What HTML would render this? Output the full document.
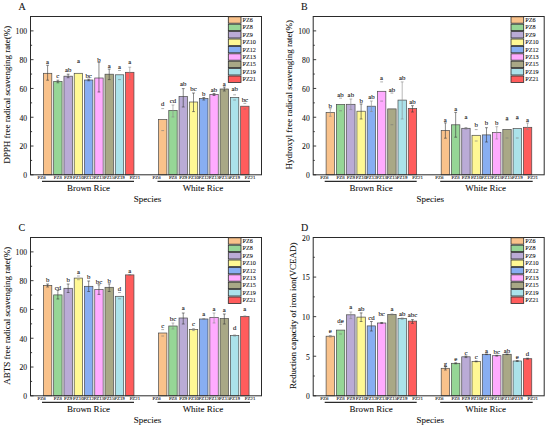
<!DOCTYPE html>
<html><head><meta charset="utf-8"><style>
html,body{margin:0;padding:0;background:#fff;width:550px;height:428px;overflow:hidden}
svg{display:block}
text{font-family:'Liberation Serif',serif;fill:#111;stroke:#111;stroke-width:0.08px}
</style></head><body>
<svg width="550" height="428" viewBox="0 0 550 428">
<g transform="translate(0,0)">
<text x="18.4" y="10.4" font-size="10">A</text>
<text transform="translate(9.6,94.8) rotate(-90)" text-anchor="middle" font-size="9">DPPH free radical scavenging rate(%)</text>
<rect x="43.4" y="73.3" width="8.4" height="101.5" fill="#F9C28B" stroke="#4a4a4a" stroke-width="0.7"/>
<path d="M47.6 65.3V80.2" stroke="#3a3a3a" stroke-width="0.6" fill="none"/>
<path d="M46.2 65.3h2.8M46.2 80.2h2.8" stroke="#3a3a3a" stroke-width="0.6" fill="none"/>
<text x="47.6" y="64.4" text-anchor="middle" font-size="6.8">a</text>
<rect x="53.67" y="81.5" width="8.4" height="93.3" fill="#96D696" stroke="#4a4a4a" stroke-width="0.7"/>
<path d="M57.87 80.2V82.8" stroke="#3a3a3a" stroke-width="0.6" fill="none"/>
<path d="M56.47 80.2h2.8M56.47 82.8h2.8" stroke="#3a3a3a" stroke-width="0.6" fill="none"/>
<text x="57.87" y="77.8" text-anchor="middle" font-size="6.8">c</text>
<rect x="63.94" y="76.2" width="8.4" height="98.6" fill="#BAABD6" stroke="#4a4a4a" stroke-width="0.7"/>
<path d="M68.14 74.2V77.7" stroke="#3a3a3a" stroke-width="0.6" fill="none"/>
<path d="M66.74 74.2h2.8M66.74 77.7h2.8" stroke="#3a3a3a" stroke-width="0.6" fill="none"/>
<text x="68.14" y="72" text-anchor="middle" font-size="6.8">ab</text>
<rect x="74.21" y="73.3" width="8.4" height="101.5" fill="#FFF894" stroke="#4a4a4a" stroke-width="0.7"/>
<text x="78.41" y="63.1" text-anchor="middle" font-size="6.8">a</text>
<rect x="84.48" y="80" width="8.4" height="94.8" fill="#88AEF2" stroke="#4a4a4a" stroke-width="0.7"/>
<path d="M88.68 79.2V80.8" stroke="#3a3a3a" stroke-width="0.6" fill="none"/>
<path d="M87.28 79.2h2.8M87.28 80.8h2.8" stroke="#3a3a3a" stroke-width="0.6" fill="none"/>
<text x="88.68" y="77.8" text-anchor="middle" font-size="6.8">bc</text>
<rect x="94.75" y="78" width="8.4" height="96.8" fill="#FFABFF" stroke="#4a4a4a" stroke-width="0.7"/>
<path d="M98.95 62.4V92" stroke="#3a3a3a" stroke-width="0.6" fill="none"/>
<path d="M97.55 62.4h2.8M97.55 92h2.8" stroke="#3a3a3a" stroke-width="0.6" fill="none"/>
<text x="98.95" y="61.5" text-anchor="middle" font-size="6.8">b</text>
<rect x="105.02" y="74.2" width="8.4" height="100.6" fill="#A9A886" stroke="#4a4a4a" stroke-width="0.7"/>
<path d="M109.22 69.1V79.6" stroke="#3a3a3a" stroke-width="0.6" fill="none"/>
<path d="M107.82 69.1h2.8M107.82 79.6h2.8" stroke="#3a3a3a" stroke-width="0.6" fill="none"/>
<text x="109.22" y="68.2" text-anchor="middle" font-size="6.8">a</text>
<rect x="115.29" y="74.8" width="8.4" height="100" fill="#ABE2EA" stroke="#4a4a4a" stroke-width="0.7"/>
<path d="M118.09 70.5h2.8M118.09 79.6h2.8" stroke="#777" stroke-width="0.6" fill="none"/>
<text x="119.49" y="69.2" text-anchor="middle" font-size="6.8">a</text>
<rect x="125.56" y="72.3" width="8.4" height="102.5" fill="#FF5C5C" stroke="#4a4a4a" stroke-width="0.7"/>
<path d="M129.76 67.2V79.6" stroke="#8a8a8a" stroke-width="0.6" fill="none"/>
<path d="M128.36 67.2h2.8M128.36 79.6h2.8" stroke="#8a8a8a" stroke-width="0.6" fill="none"/>
<text x="129.76" y="64.4" text-anchor="middle" font-size="6.8">a</text>
<rect x="158.5" y="119.6" width="8.4" height="55.2" fill="#F9C28B" stroke="#4a4a4a" stroke-width="0.7"/>
<path d="M161.3 108.6h2.8M161.3 130.6h2.8" stroke="#777" stroke-width="0.6" fill="none"/>
<text x="162.7" y="106" text-anchor="middle" font-size="6.8">d</text>
<rect x="168.77" y="110.4" width="8.4" height="64.4" fill="#96D696" stroke="#4a4a4a" stroke-width="0.7"/>
<path d="M172.97 105V117" stroke="#8a8a8a" stroke-width="0.6" fill="none"/>
<path d="M171.57 105h2.8M171.57 117h2.8" stroke="#8a8a8a" stroke-width="0.6" fill="none"/>
<text x="172.97" y="103" text-anchor="middle" font-size="6.8">cd</text>
<rect x="179.04" y="96.6" width="8.4" height="78.2" fill="#BAABD6" stroke="#4a4a4a" stroke-width="0.7"/>
<path d="M183.24 88.6V107" stroke="#3a3a3a" stroke-width="0.6" fill="none"/>
<path d="M181.84 88.6h2.8M181.84 107h2.8" stroke="#3a3a3a" stroke-width="0.6" fill="none"/>
<text x="183.24" y="85.6" text-anchor="middle" font-size="6.8">ab</text>
<rect x="189.31" y="102" width="8.4" height="72.8" fill="#FFF894" stroke="#4a4a4a" stroke-width="0.7"/>
<path d="M193.51 93V111.6" stroke="#3a3a3a" stroke-width="0.6" fill="none"/>
<path d="M192.11 93h2.8M192.11 111.6h2.8" stroke="#3a3a3a" stroke-width="0.6" fill="none"/>
<text x="193.51" y="91" text-anchor="middle" font-size="6.8">bc</text>
<rect x="199.58" y="98.6" width="8.4" height="76.2" fill="#88AEF2" stroke="#4a4a4a" stroke-width="0.7"/>
<path d="M203.78 97.5V100" stroke="#3a3a3a" stroke-width="0.6" fill="none"/>
<path d="M202.38 97.5h2.8M202.38 100h2.8" stroke="#3a3a3a" stroke-width="0.6" fill="none"/>
<text x="203.78" y="95.6" text-anchor="middle" font-size="6.8">b</text>
<rect x="209.85" y="94.4" width="8.4" height="80.4" fill="#FFABFF" stroke="#4a4a4a" stroke-width="0.7"/>
<path d="M214.05 93.5V95.5" stroke="#3a3a3a" stroke-width="0.6" fill="none"/>
<path d="M212.65 93.5h2.8M212.65 95.5h2.8" stroke="#3a3a3a" stroke-width="0.6" fill="none"/>
<text x="214.05" y="91.6" text-anchor="middle" font-size="6.8">ab</text>
<rect x="220.12" y="89" width="8.4" height="85.8" fill="#A9A886" stroke="#4a4a4a" stroke-width="0.7"/>
<path d="M224.32 87V91" stroke="#3a3a3a" stroke-width="0.6" fill="none"/>
<path d="M222.92 87h2.8M222.92 91h2.8" stroke="#3a3a3a" stroke-width="0.6" fill="none"/>
<text x="224.32" y="85.6" text-anchor="middle" font-size="6.8">a</text>
<rect x="230.39" y="97.4" width="8.4" height="77.4" fill="#ABE2EA" stroke="#4a4a4a" stroke-width="0.7"/>
<path d="M233.19 94.8h2.8M233.19 100h2.8" stroke="#777" stroke-width="0.6" fill="none"/>
<text x="234.59" y="91" text-anchor="middle" font-size="6.8">ab</text>
<rect x="240.66" y="106.2" width="8.4" height="68.6" fill="#FF5C5C" stroke="#4a4a4a" stroke-width="0.7"/>
<path d="M243.46 103.4h2.8M243.46 109h2.8" stroke="#777" stroke-width="0.6" fill="none"/>
<text x="244.86" y="102" text-anchor="middle" font-size="6.8">bc</text>
<rect x="30.5" y="16.5" width="231" height="158.3" fill="none" stroke="#2a2a2a" stroke-width="1"/>
<path d="M30.5 174.8h3M30.5 146.02h3M30.5 117.24h3M30.5 88.45h3M30.5 59.67h3M30.5 30.89h3M30.5 160.41h1.6M30.5 131.63h1.6M30.5 102.85h1.6M30.5 74.06h1.6M30.5 45.28h1.6" stroke="#2a2a2a" stroke-width="0.9"/>
<text x="27" y="178.2" text-anchor="end" font-size="7.6">0</text>
<text x="27" y="149.42" text-anchor="end" font-size="7.6">20</text>
<text x="27" y="120.64" text-anchor="end" font-size="7.6">40</text>
<text x="27" y="91.85" text-anchor="end" font-size="7.6">60</text>
<text x="27" y="63.07" text-anchor="end" font-size="7.6">80</text>
<text x="27" y="34.29" text-anchor="end" font-size="7.6">100</text>
<rect x="228.3" y="16.8" width="12.7" height="6.4" fill="#F9C28B" stroke="#2a2a2a" stroke-width="0.8"/>
<text x="242.5" y="22" font-size="6.2">PZ6</text>
<rect x="228.3" y="24.2" width="12.7" height="6.4" fill="#96D696" stroke="#2a2a2a" stroke-width="0.8"/>
<text x="242.5" y="29.4" font-size="6.2">PZ8</text>
<rect x="228.3" y="31.6" width="12.7" height="6.4" fill="#BAABD6" stroke="#2a2a2a" stroke-width="0.8"/>
<text x="242.5" y="36.8" font-size="6.2">PZ9</text>
<rect x="228.3" y="39" width="12.7" height="6.4" fill="#FFF894" stroke="#2a2a2a" stroke-width="0.8"/>
<text x="242.5" y="44.2" font-size="6.2">PZ10</text>
<rect x="228.3" y="46.4" width="12.7" height="6.4" fill="#88AEF2" stroke="#2a2a2a" stroke-width="0.8"/>
<text x="242.5" y="51.6" font-size="6.2">PZ12</text>
<rect x="228.3" y="53.8" width="12.7" height="6.4" fill="#FFABFF" stroke="#2a2a2a" stroke-width="0.8"/>
<text x="242.5" y="59" font-size="6.2">PZ13</text>
<rect x="228.3" y="61.2" width="12.7" height="6.4" fill="#A9A886" stroke="#2a2a2a" stroke-width="0.8"/>
<text x="242.5" y="66.4" font-size="6.2">PZ15</text>
<rect x="228.3" y="68.6" width="12.7" height="6.4" fill="#ABE2EA" stroke="#2a2a2a" stroke-width="0.8"/>
<text x="242.5" y="73.8" font-size="6.2">PZ19</text>
<rect x="228.3" y="76" width="12.7" height="6.4" fill="#FF5C5C" stroke="#2a2a2a" stroke-width="0.8"/>
<text x="242.5" y="81.2" font-size="6.2">PZ21</text>
<text x="41.6" y="178.6" text-anchor="middle" font-size="4.9" fill="#444" stroke="none">PZ6</text>
<text x="57.87" y="178.6" text-anchor="middle" font-size="4.9" fill="#444" stroke="none">PZ8</text>
<text x="68.14" y="178.6" text-anchor="middle" font-size="4.9" fill="#444" stroke="none">PZ9</text>
<text x="78.41" y="178.6" text-anchor="middle" font-size="4.9" fill="#444" stroke="none">PZ10</text>
<text x="88.68" y="178.6" text-anchor="middle" font-size="4.9" fill="#444" stroke="none">PZ12</text>
<text x="98.95" y="178.6" text-anchor="middle" font-size="4.9" fill="#444" stroke="none">PZ13</text>
<text x="109.22" y="178.6" text-anchor="middle" font-size="4.9" fill="#444" stroke="none">PZ15</text>
<text x="119.49" y="178.6" text-anchor="middle" font-size="4.9" fill="#444" stroke="none">PZ19</text>
<text x="134.96" y="178.6" text-anchor="middle" font-size="4.9" fill="#444" stroke="none">PZ21</text>
<text x="156.7" y="178.6" text-anchor="middle" font-size="4.9" fill="#444" stroke="none">PZ6</text>
<text x="172.97" y="178.6" text-anchor="middle" font-size="4.9" fill="#444" stroke="none">PZ8</text>
<text x="183.24" y="178.6" text-anchor="middle" font-size="4.9" fill="#444" stroke="none">PZ9</text>
<text x="193.51" y="178.6" text-anchor="middle" font-size="4.9" fill="#444" stroke="none">PZ10</text>
<text x="203.78" y="178.6" text-anchor="middle" font-size="4.9" fill="#444" stroke="none">PZ12</text>
<text x="214.05" y="178.6" text-anchor="middle" font-size="4.9" fill="#444" stroke="none">PZ13</text>
<text x="224.32" y="178.6" text-anchor="middle" font-size="4.9" fill="#444" stroke="none">PZ15</text>
<text x="234.59" y="178.6" text-anchor="middle" font-size="4.9" fill="#444" stroke="none">PZ19</text>
<text x="250.06" y="178.6" text-anchor="middle" font-size="4.9" fill="#444" stroke="none">PZ21</text>
<path d="M42 181.3H134M157.5 181.3H250" stroke="#2a2a2a" stroke-width="1.2"/>
<text x="88.5" y="191" text-anchor="middle" font-size="9">Brown Rice</text>
<text x="203" y="191" text-anchor="middle" font-size="9">White Rice</text>
<text x="147.5" y="202" text-anchor="middle" font-size="9">Species</text>
</g>
<g transform="translate(282.7,0)">
<text x="18.4" y="10.4" font-size="10">B</text>
<text transform="translate(9.6,94.8) rotate(-90)" text-anchor="middle" font-size="9">Hydroxyl free radical scavenging rate(%)</text>
<rect x="43.4" y="112.5" width="8.4" height="62.3" fill="#F9C28B" stroke="#4a4a4a" stroke-width="0.7"/>
<path d="M47.6 108.7V116.3" stroke="#8a8a8a" stroke-width="0.6" fill="none"/>
<path d="M46.2 108.7h2.8M46.2 116.3h2.8" stroke="#8a8a8a" stroke-width="0.6" fill="none"/>
<text x="47.6" y="107.8" text-anchor="middle" font-size="6.8">b</text>
<rect x="53.67" y="104.5" width="8.4" height="70.3" fill="#96D696" stroke="#4a4a4a" stroke-width="0.7"/>
<path d="M56.47 98.2h2.8M56.47 110.8h2.8" stroke="#777" stroke-width="0.6" fill="none"/>
<text x="57.87" y="97.3" text-anchor="middle" font-size="6.8">ab</text>
<rect x="63.94" y="104.3" width="8.4" height="70.5" fill="#BAABD6" stroke="#4a4a4a" stroke-width="0.7"/>
<path d="M68.14 99V109.6" stroke="#8a8a8a" stroke-width="0.6" fill="none"/>
<path d="M66.74 99h2.8M66.74 109.6h2.8" stroke="#8a8a8a" stroke-width="0.6" fill="none"/>
<text x="68.14" y="97.3" text-anchor="middle" font-size="6.8">ab</text>
<rect x="74.21" y="111.2" width="8.4" height="63.6" fill="#FFF894" stroke="#4a4a4a" stroke-width="0.7"/>
<path d="M78.41 104V119" stroke="#3a3a3a" stroke-width="0.6" fill="none"/>
<path d="M77.01 104h2.8M77.01 119h2.8" stroke="#3a3a3a" stroke-width="0.6" fill="none"/>
<text x="78.41" y="102.5" text-anchor="middle" font-size="6.8">b</text>
<rect x="84.48" y="106.2" width="8.4" height="68.6" fill="#88AEF2" stroke="#4a4a4a" stroke-width="0.7"/>
<path d="M88.68 101V111.5" stroke="#8a8a8a" stroke-width="0.6" fill="none"/>
<path d="M87.28 101h2.8M87.28 111.5h2.8" stroke="#8a8a8a" stroke-width="0.6" fill="none"/>
<text x="88.68" y="98.6" text-anchor="middle" font-size="6.8">ab</text>
<rect x="94.75" y="91.3" width="8.4" height="83.5" fill="#FFABFF" stroke="#4a4a4a" stroke-width="0.7"/>
<path d="M97.55 81.9h2.8M97.55 101.1h2.8" stroke="#777" stroke-width="0.6" fill="none"/>
<text x="98.95" y="80.4" text-anchor="middle" font-size="6.8">a</text>
<rect x="105.02" y="108.9" width="8.4" height="65.9" fill="#A9A886" stroke="#4a4a4a" stroke-width="0.7"/>
<path d="M107.82 93.1h2.8M107.82 124.7h2.8" stroke="#777" stroke-width="0.6" fill="none"/>
<text x="109.22" y="91.6" text-anchor="middle" font-size="6.8">ab</text>
<rect x="115.29" y="100.1" width="8.4" height="74.7" fill="#ABE2EA" stroke="#4a4a4a" stroke-width="0.7"/>
<path d="M119.49 81.9V119" stroke="#8a8a8a" stroke-width="0.6" fill="none"/>
<path d="M118.09 81.9h2.8M118.09 119h2.8" stroke="#8a8a8a" stroke-width="0.6" fill="none"/>
<text x="119.49" y="80.4" text-anchor="middle" font-size="6.8">ab</text>
<rect x="125.56" y="108.5" width="8.4" height="66.3" fill="#FF5C5C" stroke="#4a4a4a" stroke-width="0.7"/>
<path d="M129.76 105.7V112" stroke="#3a3a3a" stroke-width="0.6" fill="none"/>
<path d="M128.36 105.7h2.8M128.36 112h2.8" stroke="#3a3a3a" stroke-width="0.6" fill="none"/>
<text x="129.76" y="104" text-anchor="middle" font-size="6.8">ab</text>
<rect x="158.5" y="130.5" width="8.4" height="44.3" fill="#F9C28B" stroke="#4a4a4a" stroke-width="0.7"/>
<path d="M162.7 122.9V138.2" stroke="#3a3a3a" stroke-width="0.6" fill="none"/>
<path d="M161.3 122.9h2.8M161.3 138.2h2.8" stroke="#3a3a3a" stroke-width="0.6" fill="none"/>
<text x="162.7" y="121.7" text-anchor="middle" font-size="6.8">a</text>
<rect x="168.77" y="124.8" width="8.4" height="50" fill="#96D696" stroke="#4a4a4a" stroke-width="0.7"/>
<path d="M172.97 112.4V137.2" stroke="#3a3a3a" stroke-width="0.6" fill="none"/>
<path d="M171.57 112.4h2.8M171.57 137.2h2.8" stroke="#3a3a3a" stroke-width="0.6" fill="none"/>
<text x="172.97" y="110.6" text-anchor="middle" font-size="6.8">a</text>
<rect x="179.04" y="128.3" width="8.4" height="46.5" fill="#BAABD6" stroke="#4a4a4a" stroke-width="0.7"/>
<path d="M181.84 127.5h2.8M181.84 129h2.8" stroke="#777" stroke-width="0.6" fill="none"/>
<text x="183.24" y="119.2" text-anchor="middle" font-size="6.8">a</text>
<rect x="189.31" y="135.3" width="8.4" height="39.5" fill="#FFF894" stroke="#4a4a4a" stroke-width="0.7"/>
<path d="M192.11 129.6h2.8M192.11 141h2.8" stroke="#777" stroke-width="0.6" fill="none"/>
<text x="193.51" y="127.4" text-anchor="middle" font-size="6.8">b</text>
<rect x="199.58" y="134.9" width="8.4" height="39.9" fill="#88AEF2" stroke="#4a4a4a" stroke-width="0.7"/>
<path d="M203.78 127.7V142" stroke="#3a3a3a" stroke-width="0.6" fill="none"/>
<path d="M202.38 127.7h2.8M202.38 142h2.8" stroke="#3a3a3a" stroke-width="0.6" fill="none"/>
<text x="203.78" y="124.9" text-anchor="middle" font-size="6.8">b</text>
<rect x="209.85" y="132.5" width="8.4" height="42.3" fill="#FFABFF" stroke="#4a4a4a" stroke-width="0.7"/>
<path d="M214.05 126.7V139" stroke="#8a8a8a" stroke-width="0.6" fill="none"/>
<path d="M212.65 126.7h2.8M212.65 139h2.8" stroke="#8a8a8a" stroke-width="0.6" fill="none"/>
<text x="214.05" y="124.5" text-anchor="middle" font-size="6.8">b</text>
<rect x="220.12" y="129.6" width="8.4" height="45.2" fill="#A9A886" stroke="#4a4a4a" stroke-width="0.7"/>
<path d="M222.92 120.4h2.8M222.92 138h2.8" stroke="#777" stroke-width="0.6" fill="none"/>
<text x="224.32" y="120.1" text-anchor="middle" font-size="6.8">a</text>
<rect x="230.39" y="128.6" width="8.4" height="46.2" fill="#ABE2EA" stroke="#4a4a4a" stroke-width="0.7"/>
<path d="M233.19 119h2.8M233.19 138h2.8" stroke="#777" stroke-width="0.6" fill="none"/>
<text x="234.59" y="118.8" text-anchor="middle" font-size="6.8">a</text>
<rect x="240.66" y="127.3" width="8.4" height="47.5" fill="#FF5C5C" stroke="#4a4a4a" stroke-width="0.7"/>
<path d="M244.86 123V129.6" stroke="#8a8a8a" stroke-width="0.6" fill="none"/>
<path d="M243.46 123h2.8M243.46 129.6h2.8" stroke="#8a8a8a" stroke-width="0.6" fill="none"/>
<text x="244.86" y="122" text-anchor="middle" font-size="6.8">a</text>
<rect x="30.5" y="16.5" width="231" height="158.3" fill="none" stroke="#2a2a2a" stroke-width="1"/>
<path d="M30.5 174.8h3M30.5 146.02h3M30.5 117.24h3M30.5 88.45h3M30.5 59.67h3M30.5 30.89h3M30.5 160.41h1.6M30.5 131.63h1.6M30.5 102.85h1.6M30.5 74.06h1.6M30.5 45.28h1.6" stroke="#2a2a2a" stroke-width="0.9"/>
<text x="27" y="178.2" text-anchor="end" font-size="7.6">0</text>
<text x="27" y="149.42" text-anchor="end" font-size="7.6">20</text>
<text x="27" y="120.64" text-anchor="end" font-size="7.6">40</text>
<text x="27" y="91.85" text-anchor="end" font-size="7.6">60</text>
<text x="27" y="63.07" text-anchor="end" font-size="7.6">80</text>
<text x="27" y="34.29" text-anchor="end" font-size="7.6">100</text>
<rect x="228.3" y="16.8" width="12.7" height="6.4" fill="#F9C28B" stroke="#2a2a2a" stroke-width="0.8"/>
<text x="242.5" y="22" font-size="6.2">PZ6</text>
<rect x="228.3" y="24.2" width="12.7" height="6.4" fill="#96D696" stroke="#2a2a2a" stroke-width="0.8"/>
<text x="242.5" y="29.4" font-size="6.2">PZ8</text>
<rect x="228.3" y="31.6" width="12.7" height="6.4" fill="#BAABD6" stroke="#2a2a2a" stroke-width="0.8"/>
<text x="242.5" y="36.8" font-size="6.2">PZ9</text>
<rect x="228.3" y="39" width="12.7" height="6.4" fill="#FFF894" stroke="#2a2a2a" stroke-width="0.8"/>
<text x="242.5" y="44.2" font-size="6.2">PZ10</text>
<rect x="228.3" y="46.4" width="12.7" height="6.4" fill="#88AEF2" stroke="#2a2a2a" stroke-width="0.8"/>
<text x="242.5" y="51.6" font-size="6.2">PZ12</text>
<rect x="228.3" y="53.8" width="12.7" height="6.4" fill="#FFABFF" stroke="#2a2a2a" stroke-width="0.8"/>
<text x="242.5" y="59" font-size="6.2">PZ13</text>
<rect x="228.3" y="61.2" width="12.7" height="6.4" fill="#A9A886" stroke="#2a2a2a" stroke-width="0.8"/>
<text x="242.5" y="66.4" font-size="6.2">PZ15</text>
<rect x="228.3" y="68.6" width="12.7" height="6.4" fill="#ABE2EA" stroke="#2a2a2a" stroke-width="0.8"/>
<text x="242.5" y="73.8" font-size="6.2">PZ19</text>
<rect x="228.3" y="76" width="12.7" height="6.4" fill="#FF5C5C" stroke="#2a2a2a" stroke-width="0.8"/>
<text x="242.5" y="81.2" font-size="6.2">PZ21</text>
<text x="41.6" y="178.6" text-anchor="middle" font-size="4.9" fill="#444" stroke="none">PZ6</text>
<text x="57.87" y="178.6" text-anchor="middle" font-size="4.9" fill="#444" stroke="none">PZ8</text>
<text x="68.14" y="178.6" text-anchor="middle" font-size="4.9" fill="#444" stroke="none">PZ9</text>
<text x="78.41" y="178.6" text-anchor="middle" font-size="4.9" fill="#444" stroke="none">PZ10</text>
<text x="88.68" y="178.6" text-anchor="middle" font-size="4.9" fill="#444" stroke="none">PZ12</text>
<text x="98.95" y="178.6" text-anchor="middle" font-size="4.9" fill="#444" stroke="none">PZ13</text>
<text x="109.22" y="178.6" text-anchor="middle" font-size="4.9" fill="#444" stroke="none">PZ15</text>
<text x="119.49" y="178.6" text-anchor="middle" font-size="4.9" fill="#444" stroke="none">PZ19</text>
<text x="134.96" y="178.6" text-anchor="middle" font-size="4.9" fill="#444" stroke="none">PZ21</text>
<text x="156.7" y="178.6" text-anchor="middle" font-size="4.9" fill="#444" stroke="none">PZ6</text>
<text x="172.97" y="178.6" text-anchor="middle" font-size="4.9" fill="#444" stroke="none">PZ8</text>
<text x="183.24" y="178.6" text-anchor="middle" font-size="4.9" fill="#444" stroke="none">PZ9</text>
<text x="193.51" y="178.6" text-anchor="middle" font-size="4.9" fill="#444" stroke="none">PZ10</text>
<text x="203.78" y="178.6" text-anchor="middle" font-size="4.9" fill="#444" stroke="none">PZ12</text>
<text x="214.05" y="178.6" text-anchor="middle" font-size="4.9" fill="#444" stroke="none">PZ13</text>
<text x="224.32" y="178.6" text-anchor="middle" font-size="4.9" fill="#444" stroke="none">PZ15</text>
<text x="234.59" y="178.6" text-anchor="middle" font-size="4.9" fill="#444" stroke="none">PZ19</text>
<text x="250.06" y="178.6" text-anchor="middle" font-size="4.9" fill="#444" stroke="none">PZ21</text>
<path d="M42 181.3H134M157.5 181.3H250" stroke="#2a2a2a" stroke-width="1.2"/>
<text x="88.5" y="191" text-anchor="middle" font-size="9">Brown Rice</text>
<text x="203" y="191" text-anchor="middle" font-size="9">White Rice</text>
<text x="147.5" y="202" text-anchor="middle" font-size="9">Species</text>
</g>
<g transform="translate(0,221)">
<text x="18.4" y="10.4" font-size="10">C</text>
<text transform="translate(9.6,94.8) rotate(-90)" text-anchor="middle" font-size="9">ABTS free radical scavenging rate(%)</text>
<rect x="43.4" y="64.4" width="8.4" height="110.4" fill="#F9C28B" stroke="#4a4a4a" stroke-width="0.7"/>
<path d="M47.6 63V66" stroke="#3a3a3a" stroke-width="0.6" fill="none"/>
<path d="M46.2 63h2.8M46.2 66h2.8" stroke="#3a3a3a" stroke-width="0.6" fill="none"/>
<text x="47.6" y="60.7" text-anchor="middle" font-size="6.8">b</text>
<rect x="53.67" y="73.9" width="8.4" height="100.9" fill="#96D696" stroke="#4a4a4a" stroke-width="0.7"/>
<path d="M57.87 69.5V78" stroke="#3a3a3a" stroke-width="0.6" fill="none"/>
<path d="M56.47 69.5h2.8M56.47 78h2.8" stroke="#3a3a3a" stroke-width="0.6" fill="none"/>
<text x="57.87" y="68.7" text-anchor="middle" font-size="6.8">cd</text>
<rect x="63.94" y="67.3" width="8.4" height="107.5" fill="#BAABD6" stroke="#4a4a4a" stroke-width="0.7"/>
<path d="M68.14 63V71.5" stroke="#3a3a3a" stroke-width="0.6" fill="none"/>
<path d="M66.74 63h2.8M66.74 71.5h2.8" stroke="#3a3a3a" stroke-width="0.6" fill="none"/>
<text x="68.14" y="61" text-anchor="middle" font-size="6.8">b</text>
<rect x="74.21" y="57.1" width="8.4" height="117.7" fill="#FFF894" stroke="#4a4a4a" stroke-width="0.7"/>
<path d="M77.01 55h2.8M77.01 58.7h2.8" stroke="#777" stroke-width="0.6" fill="none"/>
<text x="78.41" y="53.4" text-anchor="middle" font-size="6.8">a</text>
<rect x="84.48" y="65.3" width="8.4" height="109.5" fill="#88AEF2" stroke="#4a4a4a" stroke-width="0.7"/>
<path d="M88.68 60V70.5" stroke="#3a3a3a" stroke-width="0.6" fill="none"/>
<path d="M87.28 60h2.8M87.28 70.5h2.8" stroke="#3a3a3a" stroke-width="0.6" fill="none"/>
<text x="88.68" y="58.2" text-anchor="middle" font-size="6.8">b</text>
<rect x="94.75" y="68.6" width="8.4" height="106.2" fill="#FFABFF" stroke="#4a4a4a" stroke-width="0.7"/>
<path d="M98.95 63.8V73.4" stroke="#3a3a3a" stroke-width="0.6" fill="none"/>
<path d="M97.55 63.8h2.8M97.55 73.4h2.8" stroke="#3a3a3a" stroke-width="0.6" fill="none"/>
<text x="98.95" y="62.6" text-anchor="middle" font-size="6.8">bc</text>
<rect x="105.02" y="66.3" width="8.4" height="108.5" fill="#A9A886" stroke="#4a4a4a" stroke-width="0.7"/>
<path d="M109.22 62.9V70.5" stroke="#3a3a3a" stroke-width="0.6" fill="none"/>
<path d="M107.82 62.9h2.8M107.82 70.5h2.8" stroke="#3a3a3a" stroke-width="0.6" fill="none"/>
<text x="109.22" y="61.6" text-anchor="middle" font-size="6.8">b</text>
<rect x="115.29" y="75.3" width="8.4" height="99.5" fill="#ABE2EA" stroke="#4a4a4a" stroke-width="0.7"/>
<path d="M118.09 71.5h2.8M118.09 77.8h2.8" stroke="#777" stroke-width="0.6" fill="none"/>
<text x="119.49" y="70" text-anchor="middle" font-size="6.8">d</text>
<rect x="125.56" y="53.9" width="8.4" height="120.9" fill="#FF5C5C" stroke="#4a4a4a" stroke-width="0.7"/>
<path d="M128.36 53.5h2.8M128.36 54.3h2.8" stroke="#777" stroke-width="0.6" fill="none"/>
<text x="129.76" y="52" text-anchor="middle" font-size="6.8">a</text>
<rect x="158.5" y="112" width="8.4" height="62.8" fill="#F9C28B" stroke="#4a4a4a" stroke-width="0.7"/>
<path d="M161.3 108.6h2.8M161.3 115h2.8" stroke="#777" stroke-width="0.6" fill="none"/>
<text x="162.7" y="107" text-anchor="middle" font-size="6.8">c</text>
<rect x="168.77" y="105" width="8.4" height="69.8" fill="#96D696" stroke="#4a4a4a" stroke-width="0.7"/>
<path d="M172.97 102V108" stroke="#8a8a8a" stroke-width="0.6" fill="none"/>
<path d="M171.57 102h2.8M171.57 108h2.8" stroke="#8a8a8a" stroke-width="0.6" fill="none"/>
<text x="172.97" y="100" text-anchor="middle" font-size="6.8">bc</text>
<rect x="179.04" y="97" width="8.4" height="77.8" fill="#BAABD6" stroke="#4a4a4a" stroke-width="0.7"/>
<path d="M183.24 92V103" stroke="#3a3a3a" stroke-width="0.6" fill="none"/>
<path d="M181.84 92h2.8M181.84 103h2.8" stroke="#3a3a3a" stroke-width="0.6" fill="none"/>
<text x="183.24" y="89" text-anchor="middle" font-size="6.8">a</text>
<rect x="189.31" y="108.6" width="8.4" height="66.2" fill="#FFF894" stroke="#4a4a4a" stroke-width="0.7"/>
<path d="M193.51 107.6V109.6" stroke="#8a8a8a" stroke-width="0.6" fill="none"/>
<path d="M192.11 107.6h2.8M192.11 109.6h2.8" stroke="#8a8a8a" stroke-width="0.6" fill="none"/>
<text x="193.51" y="105.4" text-anchor="middle" font-size="6.8">c</text>
<rect x="199.58" y="98" width="8.4" height="76.8" fill="#88AEF2" stroke="#4a4a4a" stroke-width="0.7"/>
<path d="M202.38 97.5h2.8M202.38 98.5h2.8" stroke="#777" stroke-width="0.6" fill="none"/>
<text x="203.78" y="95.4" text-anchor="middle" font-size="6.8">a</text>
<rect x="209.85" y="96.4" width="8.4" height="78.4" fill="#FFABFF" stroke="#4a4a4a" stroke-width="0.7"/>
<path d="M214.05 92V102" stroke="#8a8a8a" stroke-width="0.6" fill="none"/>
<path d="M212.65 92h2.8M212.65 102h2.8" stroke="#8a8a8a" stroke-width="0.6" fill="none"/>
<text x="214.05" y="90" text-anchor="middle" font-size="6.8">a</text>
<rect x="220.12" y="97.6" width="8.4" height="77.2" fill="#A9A886" stroke="#4a4a4a" stroke-width="0.7"/>
<path d="M224.32 93V103" stroke="#3a3a3a" stroke-width="0.6" fill="none"/>
<path d="M222.92 93h2.8M222.92 103h2.8" stroke="#3a3a3a" stroke-width="0.6" fill="none"/>
<text x="224.32" y="91.4" text-anchor="middle" font-size="6.8">a</text>
<rect x="230.39" y="114.6" width="8.4" height="60.2" fill="#ABE2EA" stroke="#4a4a4a" stroke-width="0.7"/>
<path d="M233.19 114h2.8M233.19 115h2.8" stroke="#777" stroke-width="0.6" fill="none"/>
<text x="234.59" y="109" text-anchor="middle" font-size="6.8">d</text>
<rect x="240.66" y="95.4" width="8.4" height="79.4" fill="#FF5C5C" stroke="#4a4a4a" stroke-width="0.7"/>
<path d="M243.46 95h2.8M243.46 95.8h2.8" stroke="#777" stroke-width="0.6" fill="none"/>
<text x="244.86" y="90" text-anchor="middle" font-size="6.8">a</text>
<rect x="30.5" y="16.5" width="231" height="158.3" fill="none" stroke="#2a2a2a" stroke-width="1"/>
<path d="M30.5 174.8h3M30.5 146.02h3M30.5 117.24h3M30.5 88.45h3M30.5 59.67h3M30.5 30.89h3M30.5 160.41h1.6M30.5 131.63h1.6M30.5 102.85h1.6M30.5 74.06h1.6M30.5 45.28h1.6" stroke="#2a2a2a" stroke-width="0.9"/>
<text x="27" y="178.2" text-anchor="end" font-size="7.6">0</text>
<text x="27" y="149.42" text-anchor="end" font-size="7.6">20</text>
<text x="27" y="120.64" text-anchor="end" font-size="7.6">40</text>
<text x="27" y="91.85" text-anchor="end" font-size="7.6">60</text>
<text x="27" y="63.07" text-anchor="end" font-size="7.6">80</text>
<text x="27" y="34.29" text-anchor="end" font-size="7.6">100</text>
<rect x="228.3" y="16.8" width="12.7" height="6.4" fill="#F9C28B" stroke="#2a2a2a" stroke-width="0.8"/>
<text x="242.5" y="22" font-size="6.2">PZ6</text>
<rect x="228.3" y="24.2" width="12.7" height="6.4" fill="#96D696" stroke="#2a2a2a" stroke-width="0.8"/>
<text x="242.5" y="29.4" font-size="6.2">PZ8</text>
<rect x="228.3" y="31.6" width="12.7" height="6.4" fill="#BAABD6" stroke="#2a2a2a" stroke-width="0.8"/>
<text x="242.5" y="36.8" font-size="6.2">PZ9</text>
<rect x="228.3" y="39" width="12.7" height="6.4" fill="#FFF894" stroke="#2a2a2a" stroke-width="0.8"/>
<text x="242.5" y="44.2" font-size="6.2">PZ10</text>
<rect x="228.3" y="46.4" width="12.7" height="6.4" fill="#88AEF2" stroke="#2a2a2a" stroke-width="0.8"/>
<text x="242.5" y="51.6" font-size="6.2">PZ12</text>
<rect x="228.3" y="53.8" width="12.7" height="6.4" fill="#FFABFF" stroke="#2a2a2a" stroke-width="0.8"/>
<text x="242.5" y="59" font-size="6.2">PZ13</text>
<rect x="228.3" y="61.2" width="12.7" height="6.4" fill="#A9A886" stroke="#2a2a2a" stroke-width="0.8"/>
<text x="242.5" y="66.4" font-size="6.2">PZ15</text>
<rect x="228.3" y="68.6" width="12.7" height="6.4" fill="#ABE2EA" stroke="#2a2a2a" stroke-width="0.8"/>
<text x="242.5" y="73.8" font-size="6.2">PZ19</text>
<rect x="228.3" y="76" width="12.7" height="6.4" fill="#FF5C5C" stroke="#2a2a2a" stroke-width="0.8"/>
<text x="242.5" y="81.2" font-size="6.2">PZ21</text>
<text x="41.6" y="178.6" text-anchor="middle" font-size="4.9" fill="#444" stroke="none">PZ6</text>
<text x="57.87" y="178.6" text-anchor="middle" font-size="4.9" fill="#444" stroke="none">PZ8</text>
<text x="68.14" y="178.6" text-anchor="middle" font-size="4.9" fill="#444" stroke="none">PZ9</text>
<text x="78.41" y="178.6" text-anchor="middle" font-size="4.9" fill="#444" stroke="none">PZ10</text>
<text x="88.68" y="178.6" text-anchor="middle" font-size="4.9" fill="#444" stroke="none">PZ12</text>
<text x="98.95" y="178.6" text-anchor="middle" font-size="4.9" fill="#444" stroke="none">PZ13</text>
<text x="109.22" y="178.6" text-anchor="middle" font-size="4.9" fill="#444" stroke="none">PZ15</text>
<text x="119.49" y="178.6" text-anchor="middle" font-size="4.9" fill="#444" stroke="none">PZ19</text>
<text x="134.96" y="178.6" text-anchor="middle" font-size="4.9" fill="#444" stroke="none">PZ21</text>
<text x="156.7" y="178.6" text-anchor="middle" font-size="4.9" fill="#444" stroke="none">PZ6</text>
<text x="172.97" y="178.6" text-anchor="middle" font-size="4.9" fill="#444" stroke="none">PZ8</text>
<text x="183.24" y="178.6" text-anchor="middle" font-size="4.9" fill="#444" stroke="none">PZ9</text>
<text x="193.51" y="178.6" text-anchor="middle" font-size="4.9" fill="#444" stroke="none">PZ10</text>
<text x="203.78" y="178.6" text-anchor="middle" font-size="4.9" fill="#444" stroke="none">PZ12</text>
<text x="214.05" y="178.6" text-anchor="middle" font-size="4.9" fill="#444" stroke="none">PZ13</text>
<text x="224.32" y="178.6" text-anchor="middle" font-size="4.9" fill="#444" stroke="none">PZ15</text>
<text x="234.59" y="178.6" text-anchor="middle" font-size="4.9" fill="#444" stroke="none">PZ19</text>
<text x="250.06" y="178.6" text-anchor="middle" font-size="4.9" fill="#444" stroke="none">PZ21</text>
<path d="M42 181.3H134M157.5 181.3H250" stroke="#2a2a2a" stroke-width="1.2"/>
<text x="88.5" y="191" text-anchor="middle" font-size="9">Brown Rice</text>
<text x="203" y="191" text-anchor="middle" font-size="9">White Rice</text>
<text x="147.5" y="202" text-anchor="middle" font-size="9">Species</text>
</g>
<g transform="translate(282.7,221)">
<text x="18.4" y="10.4" font-size="10">D</text>
<text transform="translate(13.2,94.8) rotate(-90)" text-anchor="middle" font-size="9">Reduction capacity of iron ion(VCEAD)</text>
<rect x="43.4" y="115.2" width="8.4" height="59.6" fill="#F9C28B" stroke="#4a4a4a" stroke-width="0.7"/>
<path d="M46.2 114.5h2.8M46.2 116h2.8" stroke="#777" stroke-width="0.6" fill="none"/>
<text x="47.6" y="112" text-anchor="middle" font-size="6.8">e</text>
<rect x="53.67" y="109.1" width="8.4" height="65.7" fill="#96D696" stroke="#4a4a4a" stroke-width="0.7"/>
<path d="M56.47 103.4h2.8M56.47 113h2.8" stroke="#777" stroke-width="0.6" fill="none"/>
<text x="57.87" y="101.5" text-anchor="middle" font-size="6.8">de</text>
<rect x="63.94" y="93.8" width="8.4" height="81" fill="#BAABD6" stroke="#4a4a4a" stroke-width="0.7"/>
<path d="M68.14 91V97.6" stroke="#8a8a8a" stroke-width="0.6" fill="none"/>
<path d="M66.74 91h2.8M66.74 97.6h2.8" stroke="#8a8a8a" stroke-width="0.6" fill="none"/>
<text x="68.14" y="87.8" text-anchor="middle" font-size="6.8">a</text>
<rect x="74.21" y="96.1" width="8.4" height="78.7" fill="#FFF894" stroke="#4a4a4a" stroke-width="0.7"/>
<path d="M78.41 91.9V100.5" stroke="#3a3a3a" stroke-width="0.6" fill="none"/>
<path d="M77.01 91.9h2.8M77.01 100.5h2.8" stroke="#3a3a3a" stroke-width="0.6" fill="none"/>
<text x="78.41" y="90.1" text-anchor="middle" font-size="6.8">ab</text>
<rect x="84.48" y="104.9" width="8.4" height="69.9" fill="#88AEF2" stroke="#4a4a4a" stroke-width="0.7"/>
<path d="M88.68 100.5V110" stroke="#3a3a3a" stroke-width="0.6" fill="none"/>
<path d="M87.28 100.5h2.8M87.28 110h2.8" stroke="#3a3a3a" stroke-width="0.6" fill="none"/>
<text x="88.68" y="98.7" text-anchor="middle" font-size="6.8">cd</text>
<rect x="94.75" y="102" width="8.4" height="72.8" fill="#FFABFF" stroke="#4a4a4a" stroke-width="0.7"/>
<path d="M98.95 101.5V102.5" stroke="#3a3a3a" stroke-width="0.6" fill="none"/>
<path d="M97.55 101.5h2.8M97.55 102.5h2.8" stroke="#3a3a3a" stroke-width="0.6" fill="none"/>
<text x="98.95" y="94.9" text-anchor="middle" font-size="6.8">bc</text>
<rect x="105.02" y="93.4" width="8.4" height="81.4" fill="#A9A886" stroke="#4a4a4a" stroke-width="0.7"/>
<path d="M107.82 93h2.8M107.82 93.8h2.8" stroke="#777" stroke-width="0.6" fill="none"/>
<text x="109.22" y="90.1" text-anchor="middle" font-size="6.8">a</text>
<rect x="115.29" y="97.6" width="8.4" height="77.2" fill="#ABE2EA" stroke="#4a4a4a" stroke-width="0.7"/>
<path d="M118.09 97h2.8M118.09 98.2h2.8" stroke="#777" stroke-width="0.6" fill="none"/>
<text x="119.49" y="94.9" text-anchor="middle" font-size="6.8">ab</text>
<rect x="125.56" y="100.1" width="8.4" height="74.7" fill="#FF5C5C" stroke="#4a4a4a" stroke-width="0.7"/>
<path d="M129.76 98.6V102.4" stroke="#3a3a3a" stroke-width="0.6" fill="none"/>
<path d="M128.36 98.6h2.8M128.36 102.4h2.8" stroke="#3a3a3a" stroke-width="0.6" fill="none"/>
<text x="129.76" y="96.4" text-anchor="middle" font-size="6.8">abc</text>
<rect x="158.5" y="147.3" width="8.4" height="27.5" fill="#F9C28B" stroke="#4a4a4a" stroke-width="0.7"/>
<path d="M162.7 145.7V149" stroke="#3a3a3a" stroke-width="0.6" fill="none"/>
<path d="M161.3 145.7h2.8M161.3 149h2.8" stroke="#3a3a3a" stroke-width="0.6" fill="none"/>
<text x="162.7" y="144.9" text-anchor="middle" font-size="6.8">g</text>
<rect x="168.77" y="142.3" width="8.4" height="32.5" fill="#96D696" stroke="#4a4a4a" stroke-width="0.7"/>
<path d="M172.97 141.8V142.8" stroke="#3a3a3a" stroke-width="0.6" fill="none"/>
<path d="M171.57 141.8h2.8M171.57 142.8h2.8" stroke="#3a3a3a" stroke-width="0.6" fill="none"/>
<text x="172.97" y="140.1" text-anchor="middle" font-size="6.8">e</text>
<rect x="179.04" y="135.8" width="8.4" height="39" fill="#BAABD6" stroke="#4a4a4a" stroke-width="0.7"/>
<path d="M183.24 135V136.6" stroke="#3a3a3a" stroke-width="0.6" fill="none"/>
<path d="M181.84 135h2.8M181.84 136.6h2.8" stroke="#3a3a3a" stroke-width="0.6" fill="none"/>
<text x="183.24" y="134.4" text-anchor="middle" font-size="6.8">c</text>
<rect x="189.31" y="140.4" width="8.4" height="34.4" fill="#FFF894" stroke="#4a4a4a" stroke-width="0.7"/>
<path d="M193.51 140V140.8" stroke="#3a3a3a" stroke-width="0.6" fill="none"/>
<path d="M192.11 140h2.8M192.11 140.8h2.8" stroke="#3a3a3a" stroke-width="0.6" fill="none"/>
<text x="193.51" y="138.2" text-anchor="middle" font-size="6.8">c</text>
<rect x="199.58" y="133.3" width="8.4" height="41.5" fill="#88AEF2" stroke="#4a4a4a" stroke-width="0.7"/>
<path d="M203.78 133V133.6" stroke="#3a3a3a" stroke-width="0.6" fill="none"/>
<path d="M202.38 133h2.8M202.38 133.6h2.8" stroke="#3a3a3a" stroke-width="0.6" fill="none"/>
<text x="203.78" y="131.5" text-anchor="middle" font-size="6.8">a</text>
<rect x="209.85" y="134.7" width="8.4" height="40.1" fill="#FFABFF" stroke="#4a4a4a" stroke-width="0.7"/>
<path d="M214.05 134.3V135.1" stroke="#3a3a3a" stroke-width="0.6" fill="none"/>
<path d="M212.65 134.3h2.8M212.65 135.1h2.8" stroke="#3a3a3a" stroke-width="0.6" fill="none"/>
<text x="214.05" y="132.5" text-anchor="middle" font-size="6.8">bc</text>
<rect x="220.12" y="133.3" width="8.4" height="41.5" fill="#A9A886" stroke="#4a4a4a" stroke-width="0.7"/>
<path d="M224.32 133V133.6" stroke="#3a3a3a" stroke-width="0.6" fill="none"/>
<path d="M222.92 133h2.8M222.92 133.6h2.8" stroke="#3a3a3a" stroke-width="0.6" fill="none"/>
<text x="224.32" y="131.5" text-anchor="middle" font-size="6.8">ab</text>
<rect x="230.39" y="140" width="8.4" height="34.8" fill="#ABE2EA" stroke="#4a4a4a" stroke-width="0.7"/>
<path d="M234.59 139.5V140.5" stroke="#3a3a3a" stroke-width="0.6" fill="none"/>
<path d="M233.19 139.5h2.8M233.19 140.5h2.8" stroke="#3a3a3a" stroke-width="0.6" fill="none"/>
<text x="234.59" y="138.2" text-anchor="middle" font-size="6.8">e</text>
<rect x="240.66" y="137.7" width="8.4" height="37.1" fill="#FF5C5C" stroke="#4a4a4a" stroke-width="0.7"/>
<path d="M244.86 137.2V138.2" stroke="#3a3a3a" stroke-width="0.6" fill="none"/>
<path d="M243.46 137.2h2.8M243.46 138.2h2.8" stroke="#3a3a3a" stroke-width="0.6" fill="none"/>
<text x="244.86" y="135.3" text-anchor="middle" font-size="6.8">d</text>
<rect x="30.5" y="16.5" width="231" height="158.3" fill="none" stroke="#2a2a2a" stroke-width="1"/>
<path d="M30.5 174.8h3M30.5 135.23h3M30.5 95.65h3M30.5 56.08h3M30.5 16.5h3M30.5 155.01h1.6M30.5 115.44h1.6M30.5 75.86h1.6M30.5 36.29h1.6" stroke="#2a2a2a" stroke-width="0.9"/>
<text x="27" y="178.2" text-anchor="end" font-size="7.6">0</text>
<text x="27" y="138.63" text-anchor="end" font-size="7.6">5</text>
<text x="27" y="99.05" text-anchor="end" font-size="7.6">10</text>
<text x="27" y="59.48" text-anchor="end" font-size="7.6">15</text>
<text x="27" y="19.9" text-anchor="end" font-size="7.6">20</text>
<rect x="228.3" y="16.8" width="12.7" height="6.4" fill="#F9C28B" stroke="#2a2a2a" stroke-width="0.8"/>
<text x="242.5" y="22" font-size="6.2">PZ6</text>
<rect x="228.3" y="24.2" width="12.7" height="6.4" fill="#96D696" stroke="#2a2a2a" stroke-width="0.8"/>
<text x="242.5" y="29.4" font-size="6.2">PZ8</text>
<rect x="228.3" y="31.6" width="12.7" height="6.4" fill="#BAABD6" stroke="#2a2a2a" stroke-width="0.8"/>
<text x="242.5" y="36.8" font-size="6.2">PZ9</text>
<rect x="228.3" y="39" width="12.7" height="6.4" fill="#FFF894" stroke="#2a2a2a" stroke-width="0.8"/>
<text x="242.5" y="44.2" font-size="6.2">PZ10</text>
<rect x="228.3" y="46.4" width="12.7" height="6.4" fill="#88AEF2" stroke="#2a2a2a" stroke-width="0.8"/>
<text x="242.5" y="51.6" font-size="6.2">PZ12</text>
<rect x="228.3" y="53.8" width="12.7" height="6.4" fill="#FFABFF" stroke="#2a2a2a" stroke-width="0.8"/>
<text x="242.5" y="59" font-size="6.2">PZ13</text>
<rect x="228.3" y="61.2" width="12.7" height="6.4" fill="#A9A886" stroke="#2a2a2a" stroke-width="0.8"/>
<text x="242.5" y="66.4" font-size="6.2">PZ15</text>
<rect x="228.3" y="68.6" width="12.7" height="6.4" fill="#ABE2EA" stroke="#2a2a2a" stroke-width="0.8"/>
<text x="242.5" y="73.8" font-size="6.2">PZ19</text>
<rect x="228.3" y="76" width="12.7" height="6.4" fill="#FF5C5C" stroke="#2a2a2a" stroke-width="0.8"/>
<text x="242.5" y="81.2" font-size="6.2">PZ21</text>
<text x="41.6" y="178.6" text-anchor="middle" font-size="4.9" fill="#444" stroke="none">PZ6</text>
<text x="57.87" y="178.6" text-anchor="middle" font-size="4.9" fill="#444" stroke="none">PZ8</text>
<text x="68.14" y="178.6" text-anchor="middle" font-size="4.9" fill="#444" stroke="none">PZ9</text>
<text x="78.41" y="178.6" text-anchor="middle" font-size="4.9" fill="#444" stroke="none">PZ10</text>
<text x="88.68" y="178.6" text-anchor="middle" font-size="4.9" fill="#444" stroke="none">PZ12</text>
<text x="98.95" y="178.6" text-anchor="middle" font-size="4.9" fill="#444" stroke="none">PZ13</text>
<text x="109.22" y="178.6" text-anchor="middle" font-size="4.9" fill="#444" stroke="none">PZ15</text>
<text x="119.49" y="178.6" text-anchor="middle" font-size="4.9" fill="#444" stroke="none">PZ19</text>
<text x="134.96" y="178.6" text-anchor="middle" font-size="4.9" fill="#444" stroke="none">PZ21</text>
<text x="156.7" y="178.6" text-anchor="middle" font-size="4.9" fill="#444" stroke="none">PZ6</text>
<text x="172.97" y="178.6" text-anchor="middle" font-size="4.9" fill="#444" stroke="none">PZ8</text>
<text x="183.24" y="178.6" text-anchor="middle" font-size="4.9" fill="#444" stroke="none">PZ9</text>
<text x="193.51" y="178.6" text-anchor="middle" font-size="4.9" fill="#444" stroke="none">PZ10</text>
<text x="203.78" y="178.6" text-anchor="middle" font-size="4.9" fill="#444" stroke="none">PZ12</text>
<text x="214.05" y="178.6" text-anchor="middle" font-size="4.9" fill="#444" stroke="none">PZ13</text>
<text x="224.32" y="178.6" text-anchor="middle" font-size="4.9" fill="#444" stroke="none">PZ15</text>
<text x="234.59" y="178.6" text-anchor="middle" font-size="4.9" fill="#444" stroke="none">PZ19</text>
<text x="250.06" y="178.6" text-anchor="middle" font-size="4.9" fill="#444" stroke="none">PZ21</text>
<path d="M42 181.3H134M157.5 181.3H250" stroke="#2a2a2a" stroke-width="1.2"/>
<text x="88.5" y="191" text-anchor="middle" font-size="9">Brown Rice</text>
<text x="203" y="191" text-anchor="middle" font-size="9">White Rice</text>
<text x="147.5" y="202" text-anchor="middle" font-size="9">Species</text>
</g>
</svg>
</body></html>
